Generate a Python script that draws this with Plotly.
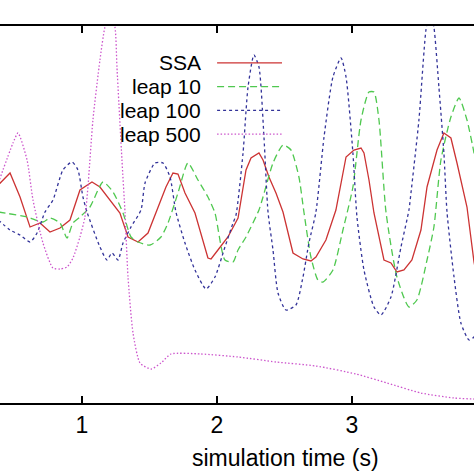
import plotly.graph_objects as go

# ---- data ----
ssa_t = [0.38, 0.467, 0.541, 0.615, 0.689, 0.763, 0.837, 0.911, 0.985, 1.074, 1.133, 1.207, 1.281, 1.341,
         1.415, 1.489, 1.548, 1.622, 1.674, 1.711, 1.763, 1.837, 1.933, 1.956, 2.007, 2.081, 2.156, 2.215,
         2.252, 2.311, 2.341, 2.385, 2.437, 2.489, 2.563, 2.637, 2.696, 2.733, 2.807, 2.881, 2.956, 3.015,
         3.067, 3.089, 3.126, 3.163, 3.237, 3.289, 3.333, 3.385, 3.444, 3.511, 3.556, 3.630, 3.681, 3.733,
         3.778, 3.852, 3.904, 3.92]
ssa_y = [218, 230, 206, 176, 180, 171, 175, 183, 213, 221, 216, 203, 190, 166,
         161, 170, 191, 216, 230, 229, 210, 190, 145, 144, 153, 166, 185, 233,
         245, 250, 243, 226, 210, 191, 150, 144, 142, 146, 163, 193, 246, 253,
         255, 250, 223, 190, 143, 140, 131, 133, 143, 173, 216, 253, 270, 265,
         240, 196, 141, 130]

leap10_t = [0.38, 0.593, 0.711, 0.763, 0.837, 0.889, 0.933, 0.985, 1.059, 1.156, 1.230, 1.304, 1.363, 1.415,
            1.504, 1.585, 1.637, 1.711, 1.785, 1.859, 1.933, 1.985, 2.059, 2.119, 2.156, 2.215, 2.311, 2.341,
            2.415, 2.489, 2.548, 2.607, 2.644, 2.696, 2.748, 2.785, 2.859, 2.933, 3.007, 3.067, 3.126, 3.163,
            3.200, 3.252, 3.333, 3.422, 3.481, 3.556, 3.607, 3.659, 3.733, 3.793, 3.852, 3.904, 3.92]
leap10_y = [191, 186, 181, 185, 180, 165, 180, 186, 196, 221, 211, 190, 166, 161,
            158, 166, 180, 210, 240, 223, 206, 190, 143, 141, 153, 166, 193, 206,
            240, 258, 253, 226, 191, 146, 123, 121, 133, 173, 216, 283, 311, 311,
            283, 191, 126, 96, 103, 143, 176, 243, 286, 305, 283, 250, 235]

leap100_t = [0.38, 0.467, 0.541, 0.615, 0.667, 0.726, 0.785, 0.859, 0.926, 0.970, 1.007, 1.037, 1.133, 1.185,
             1.222, 1.267, 1.304, 1.363, 1.437, 1.467, 1.541, 1.600, 1.652, 1.696, 1.763, 1.837, 1.919, 1.985,
             2.059, 2.119, 2.141, 2.193, 2.230, 2.274, 2.311, 2.348, 2.378, 2.415, 2.452, 2.511, 2.585, 2.637,
             2.681, 2.733, 2.793, 2.859, 2.919, 2.956, 3.007, 3.037, 3.089, 3.163, 3.215, 3.289, 3.363, 3.422,
             3.437, 3.496, 3.548, 3.578, 3.607, 3.644, 3.681, 3.704, 3.756, 3.807, 3.867, 3.904, 3.92]
leap100_y = [183, 173, 168, 161, 170, 191, 203, 233, 241, 233, 206, 191, 156, 143,
             150, 143, 160, 176, 193, 220, 240, 240, 226, 191, 160, 133, 114, 126,
             156, 180, 188, 250, 316, 348, 336, 266, 191, 153, 110, 93, 98, 126,
             160, 191, 266, 326, 345, 326, 250, 186, 133, 96, 88, 106, 156, 193,
             210, 283, 373, 393, 376, 316, 250, 191, 126, 80, 63, 66, 70]

leap500_t = [0.38, 0.489, 0.526, 0.593, 0.637, 0.711, 0.785, 0.837, 0.889, 0.933, 0.985, 1.022, 1.044, 1.081,
             1.133, 1.170, 1.207, 1.244, 1.259, 1.296, 1.319, 1.341, 1.378, 1.430, 1.511, 1.585, 1.659, 1.881,
             2.156, 2.437, 2.733, 3.030, 3.259, 3.511, 3.756, 3.904, 3.92]
leap500_y = [220, 260, 270, 243, 203, 160, 135, 134, 136, 145, 166, 186, 216, 283,
             343, 376, 390, 376, 336, 243, 190, 126, 70, 40, 34, 40, 49, 49,
             46, 41, 37, 29, 20, 10, 5, 4, 4]

x_ticks = [1, 2, 3]
names = ["SSA", "leap 10", "leap 100", "leap 500"]
colors = ["#cc3333", "#4fc84f", "#333399", "#cc55cc"]
dashes = ["solid", "7px,4px", "3px,3px", "1.5px,2px"]
shapes_ = ["linear", "spline", "spline", "spline"]

series = [(ssa_t, ssa_y), (leap10_t, leap10_y), (leap100_t, leap100_y), (leap500_t, leap500_y)]

FONT = "Liberation Sans, Arial, Helvetica, sans-serif"

fig = go.Figure()
for (t, y), name, c, d, s in zip(series, names, colors, dashes, shapes_):
    fig.add_trace(go.Scatter(x=t, y=y, mode="lines", name=name,
                             line=dict(color=c, width=1.3, dash=d, shape=s, smoothing=0.6),
                             showlegend=False))

# legend drawn gnuplot-style: right-aligned text followed by a sample line
legend_rows = [0.902, 0.839, 0.776, 0.713]
for name, c, d, yy in zip(names, colors, dashes, legend_rows):
    fig.add_annotation(x=0.426, y=yy, xref="paper", yref="paper", text=name,
                       showarrow=False, xanchor="right", yanchor="middle",
                       borderpad=0,
                       font=dict(family=FONT, size=21, color="black"))
    fig.add_shape(type="line", xref="paper", yref="paper", x0=0.458, x1=0.595, y0=yy, y1=yy,
                  line=dict(color=c, width=1.3, dash=d))

fig.add_annotation(x=2.504, y=-0.146, xref="x", yref="paper", text="simulation time (s)",
                   showarrow=False, xanchor="center", yanchor="middle",
                   font=dict(family=FONT, size=23, color="black"))

fig.update_xaxes(range=[0.3926, 3.904], tickvals=x_ticks, ticktext=[str(v) for v in x_ticks],
                 ticks="inside", ticklen=7, tickwidth=1.5, tickcolor="black",
                 showline=True, linecolor="black", linewidth=2, mirror="ticks",
                 showgrid=False, zeroline=False,
                 tickfont=dict(family=FONT, size=23, color="black"))
fig.update_yaxes(range=[0, 377], showticklabels=False, showgrid=False, zeroline=False,
                 showline=False, ticks="")

fig.update_layout(width=474, height=474, margin=dict(l=0, r=0, t=26, b=71),
                  plot_bgcolor="white", paper_bgcolor="white")

fig.write_html("out.html")
